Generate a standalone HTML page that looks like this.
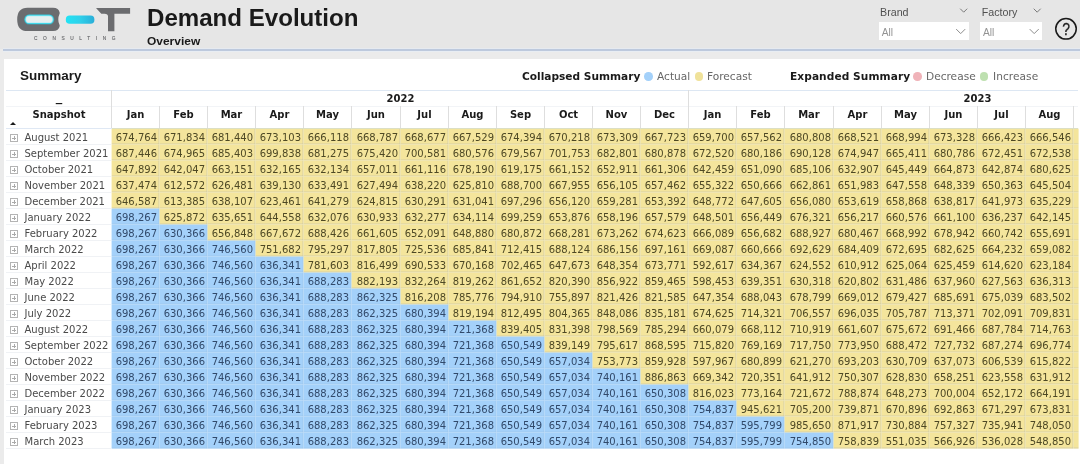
<!DOCTYPE html>
<html lang="en"><head><meta charset="utf-8"><title>Demand Evolution</title>
<style>
*{box-sizing:border-box;margin:0;padding:0}
html,body{width:1080px;height:464px;overflow:hidden}
body{background:#ebebeb;position:relative;font-family:"DejaVu Sans","Liberation Sans",sans-serif;color:#333}
.logo{position:absolute;left:0;top:0}
.title{position:absolute;left:147.4px;top:3.6px;font:bold 23.4px/28px "Liberation Sans",sans-serif;transform:scaleX(1.03);transform-origin:0 0;color:#1a1a1a;white-space:nowrap}
.sub{position:absolute;left:147px;top:34px;font:bold 10.7px/14px "Liberation Sans",sans-serif;transform:scaleX(1.12);transform-origin:0 0;color:#1a1a1a;white-space:nowrap}
.sl-l{position:absolute;top:6.2px;font:10.7px/13px "Liberation Sans",sans-serif;color:#505050;white-space:nowrap}
.sl-b{position:absolute;top:22px;height:18px;background:#fff;font:10.2px/21px "Liberation Sans",sans-serif;color:#939393;padding-left:2.8px}
.chev{position:absolute}
.help{position:absolute;left:1050px;top:14px;width:30px;height:30px}
.hdr{position:absolute;left:0;top:0;width:1080px;height:49px;background:#e6e6e6}
.rule{position:absolute;left:3px;top:48px;width:1077px;height:4px;background:linear-gradient(#e6eaf0 0,#e6eaf0 1px,#bdc9dd 1px,#bdc9dd 3px,#e8edf3 3px,#e8edf3 4px)}
.panel{position:absolute;left:0;top:0;width:1080px;height:464px}
.panel>*{position:absolute}
.white{left:4px;top:58.7px;width:1076px;height:405.3px;background:#fff}
.sum{left:20px;top:67.5px;font:bold 13.5px/16px "Liberation Sans",sans-serif;color:#1a1a1a;white-space:nowrap}
.lg{top:69.5px;font:10.6px/13px "DejaVu Sans",sans-serif;color:#666;white-space:nowrap}
.lg b{color:#1a1a1a}
.dot{width:8.6px;height:8.6px;border-radius:50%;top:72px}
.yr{top:92.3px;height:14px;font:bold 10px/14px "DejaVu Sans",sans-serif;text-align:center;color:#1a1a1a;white-space:nowrap;overflow:hidden}
.mo{top:107.5px;height:14px;font:bold 10px/14px "DejaVu Sans",sans-serif;text-align:center;color:#1a1a1a}
.hl{height:1px;background:#dde7f3}
.h2{background:#f2f4f7}
.h3{background:#dfe8f4;z-index:3}
.h4{background:#dcdfc4;z-index:4}
.vl{width:1px;background:#dedede}
.snap{left:6.5px;width:105px;top:107.5px;font:bold 10px/14px "DejaVu Sans",sans-serif;text-align:center;color:#1a1a1a}
.us{left:6.5px;width:105px;top:89.5px;font:bold 13px/14px "DejaVu Sans",sans-serif;text-align:center;color:#1a1a1a}
.tri{left:9.8px;top:121.8px;width:0;height:0;border-left:3.3px solid transparent;border-right:3.3px solid transparent;border-bottom:3.8px solid #1a1a1a}
.row{left:0;width:1080px;height:16px;font:10px/16px "DejaVu Sans",sans-serif}
.row>*,.rr>*{position:absolute;top:0}
.rhdr{left:0;top:0;width:112px;height:464px}
.rr{position:absolute;left:0;width:112px;height:16px;font:10px/16px "DejaVu Sans",sans-serif}
.rr::before{content:"";position:absolute;left:6px;top:15px;width:105px;height:1px;background:#f0f2f5}
.ex{left:10px;top:5px;width:8px;height:8px;border:1px solid #b4b4b4;background:#fff}
.ex::before{content:"";position:absolute;left:1px;top:2.5px;width:4px;height:1px;background:#aaa}
.ex::after{content:"";position:absolute;left:2.5px;top:1px;width:1px;height:4px;background:#aaa}
.rh{left:24.5px;color:#4a4a4a;white-space:nowrap;line-height:17.4px}
.c{height:16px;text-align:right;padding-right:2.6px;color:#4d4824;line-height:17.4px;overflow:hidden}
.c::after{content:"";position:absolute;right:0;top:0;bottom:0;width:1px;background:rgba(172,178,184,.52)}
.c::before{content:"";position:absolute;left:0;right:0;bottom:0;height:1px;background:rgba(172,178,184,.52)}
.y{background:#f4e59c}
.b{background:#a4d1fa;color:#31496a}
.b::after,.b::before{background:rgba(150,175,200,.26)}
.rows{left:0;top:0;width:1080px;height:464px;transform:translate(-.4px,-.4px)}
.rows>.row{position:absolute}
.c.e::after{display:none}
</style></head>
<body>
<div class="hdr"></div>
<svg class="logo" width="140" height="46" viewBox="0 0 140 46">
  <defs>
    <linearGradient id="cy" x1="0" x2="1" y1="0" y2="0"><stop offset="0" stop-color="#22e3f4"/><stop offset="0.5" stop-color="#2fd0ea"/><stop offset="1" stop-color="#2aaed8"/></linearGradient>
  </defs>
  <path d="M27.5 7.7 H53 Q58.8 7.7 59.7 12.8 Q59.8 13.6 59.3 14.5 Q58.3 16.6 58.3 19.4 Q58.3 22.2 59.3 24.3 Q59.8 25.2 59.7 26 Q58.8 31.1 53 31.1 H27.5 Q17.2 31.1 17.2 19.4 Q17.2 7.7 27.5 7.7 Z" fill="#6b6c6f"/>
  <rect x="24" y="14.2" width="30.4" height="10.5" rx="5.25" fill="#4f8f9c"/>
  <rect x="24.6" y="14.8" width="29.2" height="9.3" rx="4.65" fill="#3fd8ea"/>
  <rect x="25.6" y="15.8" width="27.2" height="7.3" rx="3.65" fill="#bfeef4"/>
  <rect x="26.4" y="16.6" width="25.6" height="5.7" rx="2.85" fill="#e6eff0"/>
  <rect x="65.8" y="15.6" width="28.6" height="8.2" rx="3.8" fill="url(#cy)"/>
  <path d="M96 8 H130.1 V13.8 H114.4 V31.3 H108 V16.6 Q108 13.8 104.5 13.8 H101.3 Z" fill="#6b6c6f"/>
  <text x="34" y="39.9" font-family="Liberation Sans, sans-serif" font-size="4.8" letter-spacing="5.6" fill="#66676a" stroke="#66676a" stroke-width="0.12">CONSULTING</text>
</svg>
<div class="title">Demand Evolution</div>
<div class="sub">Overview</div>
<div class="sl-l" style="left:880px">Brand</div>
<svg class="chev" style="left:959px;top:7px" width="10" height="8" viewBox="0 0 10 8"><path d="M1.2 1.7 L4.7 5.2 L8.2 1.7" fill="none" stroke="#7a7a7a" stroke-width="1"/></svg>
<div class="sl-b" style="left:879px;width:90px">All</div>
<svg class="chev" style="left:955px;top:28px" width="12" height="8" viewBox="0 0 12 8"><path d="M1.2 1.1 L5.7 5.6 L10.2 1.1" fill="none" stroke="#8c8c8c" stroke-width="1"/></svg>
<div class="sl-l" style="left:981.7px">Factory</div>
<svg class="chev" style="left:1033px;top:7px" width="10" height="8" viewBox="0 0 10 8"><path d="M0.7 1.7 L4.2 5.2 L7.7 1.7" fill="none" stroke="#7a7a7a" stroke-width="1"/></svg>
<div class="sl-b" style="left:980.2px;width:62.1px">All</div>
<svg class="chev" style="left:1029px;top:28px" width="12" height="8" viewBox="0 0 12 8"><path d="M0.7 1.1 L5.2 5.6 L9.7 1.1" fill="none" stroke="#8c8c8c" stroke-width="1"/></svg>
<svg class="help" viewBox="0 0 30 30"><circle cx="16" cy="14.85" r="10.25" fill="none" stroke="#1a1a1a" stroke-width="1.5"/><text transform="translate(16.2 21.4) scale(0.8 1)" text-anchor="middle" font-family="Liberation Sans, sans-serif" font-size="17.4" fill="#1a1a1a" stroke="#1a1a1a" stroke-width="0.3">?</text></svg>
<div class="rule"></div>
<div class="panel">
<div class="white"></div>
<div class="sum">Summary</div>
<div class="lg" style="left:522px"><b>Collapsed Summary</b></div>
<div class="dot" style="left:644.3px;background:#a4d1fa"></div>
<div class="lg" style="left:657px">Actual</div>
<div class="dot" style="left:694.8px;background:#f0e29a"></div>
<div class="lg" style="left:707px">Forecast</div>
<div class="lg" style="left:790px;letter-spacing:.08px"><b>Expanded Summary</b></div>
<div class="dot" style="left:913.2px;background:#f0b3b9"></div>
<div class="lg" style="left:926px">Decrease</div>
<div class="dot" style="left:979.6px;background:#bee0b0"></div>
<div class="lg" style="left:993px;letter-spacing:.05px">Increase</div>
<div class="us">_</div>
<div class="snap">Snapshot</div>
<div class="tri"></div>
<div class="yr" style="left:112px;width:577px">2022</div>
<div class="yr" style="left:689px;width:577px">2023</div>
<div class="mo" style="left:112px;width:47px">Jan</div><div class="mo" style="left:160px;width:47px">Feb</div><div class="mo" style="left:208px;width:47px">Mar</div><div class="mo" style="left:256px;width:47px">Apr</div><div class="mo" style="left:304px;width:47px">May</div><div class="mo" style="left:352px;width:48px">Jun</div><div class="mo" style="left:401px;width:47px">Jul</div><div class="mo" style="left:449px;width:47px">Aug</div><div class="mo" style="left:497px;width:47px">Sep</div><div class="mo" style="left:545px;width:47px">Oct</div><div class="mo" style="left:593px;width:47px">Nov</div><div class="mo" style="left:641px;width:47px">Dec</div><div class="mo" style="left:689px;width:47px">Jan</div><div class="mo" style="left:737px;width:47px">Feb</div><div class="mo" style="left:785px;width:48px">Mar</div><div class="mo" style="left:834px;width:47px">Apr</div><div class="mo" style="left:882px;width:47px">May</div><div class="mo" style="left:930px;width:47px">Jun</div><div class="mo" style="left:978px;width:47px">Jul</div><div class="mo" style="left:1026px;width:47px">Aug</div>
<div class="hl h1" style="top:90px;left:6px;width:1072px"></div>
<div class="hl h2" style="top:106px;left:6px;width:1072px"></div>
<div class="hl h3" style="top:128px;left:6px;width:106px"></div>
<div class="hl h4" style="top:128px;left:112px;width:966px"></div>
<div class="vl" style="left:111px;top:90px;height:39px"></div><div class="vl" style="left:159px;top:106px;height:23px"></div><div class="vl" style="left:207px;top:106px;height:23px"></div><div class="vl" style="left:255px;top:106px;height:23px"></div><div class="vl" style="left:303px;top:106px;height:23px"></div><div class="vl" style="left:351px;top:106px;height:23px"></div><div class="vl" style="left:400px;top:106px;height:23px"></div><div class="vl" style="left:448px;top:106px;height:23px"></div><div class="vl" style="left:496px;top:106px;height:23px"></div><div class="vl" style="left:544px;top:106px;height:23px"></div><div class="vl" style="left:592px;top:106px;height:23px"></div><div class="vl" style="left:640px;top:106px;height:23px"></div><div class="vl" style="left:688px;top:90px;height:39px"></div><div class="vl" style="left:736px;top:106px;height:23px"></div><div class="vl" style="left:784px;top:106px;height:23px"></div><div class="vl" style="left:833px;top:106px;height:23px"></div><div class="vl" style="left:881px;top:106px;height:23px"></div><div class="vl" style="left:929px;top:106px;height:23px"></div><div class="vl" style="left:977px;top:106px;height:23px"></div><div class="vl" style="left:1025px;top:106px;height:23px"></div><div class="vl" style="left:1073px;top:106px;height:23px"></div>
<div class="rhdr">
<div class="rr" style="top:129px"><i class="ex"></i><span class="rh">August 2021</span></div>
<div class="rr" style="top:145px"><i class="ex"></i><span class="rh">September 2021</span></div>
<div class="rr" style="top:161px"><i class="ex"></i><span class="rh">October 2021</span></div>
<div class="rr" style="top:177px"><i class="ex"></i><span class="rh">November 2021</span></div>
<div class="rr" style="top:193px"><i class="ex"></i><span class="rh">December 2021</span></div>
<div class="rr" style="top:209px"><i class="ex"></i><span class="rh">January 2022</span></div>
<div class="rr" style="top:225px"><i class="ex"></i><span class="rh">February 2022</span></div>
<div class="rr" style="top:241px"><i class="ex"></i><span class="rh">March 2022</span></div>
<div class="rr" style="top:257px"><i class="ex"></i><span class="rh">April 2022</span></div>
<div class="rr" style="top:273px"><i class="ex"></i><span class="rh">May 2022</span></div>
<div class="rr" style="top:289px"><i class="ex"></i><span class="rh">June 2022</span></div>
<div class="rr" style="top:305px"><i class="ex"></i><span class="rh">July 2022</span></div>
<div class="rr" style="top:321px"><i class="ex"></i><span class="rh">August 2022</span></div>
<div class="rr" style="top:337px"><i class="ex"></i><span class="rh">September 2022</span></div>
<div class="rr" style="top:353px"><i class="ex"></i><span class="rh">October 2022</span></div>
<div class="rr" style="top:369px"><i class="ex"></i><span class="rh">November 2022</span></div>
<div class="rr" style="top:385px"><i class="ex"></i><span class="rh">December 2022</span></div>
<div class="rr" style="top:401px"><i class="ex"></i><span class="rh">January 2023</span></div>
<div class="rr" style="top:417px"><i class="ex"></i><span class="rh">February 2023</span></div>
<div class="rr" style="top:433px"><i class="ex"></i><span class="rh">March 2023</span></div>
</div>
<div class="rows">
<div class="row" style="top:129px"><span class="c y" style="left:112px;width:48px">674,764</span><span class="c y" style="left:160px;width:48px">671,834</span><span class="c y" style="left:208px;width:48px">681,440</span><span class="c y" style="left:256px;width:48px">673,103</span><span class="c y" style="left:304px;width:48px">666,118</span><span class="c y" style="left:352px;width:49px">668,787</span><span class="c y" style="left:401px;width:48px">668,677</span><span class="c y" style="left:449px;width:48px">667,529</span><span class="c y" style="left:497px;width:48px">674,394</span><span class="c y" style="left:545px;width:48px">670,218</span><span class="c y" style="left:593px;width:48px">673,309</span><span class="c y" style="left:641px;width:48px">667,723</span><span class="c y" style="left:689px;width:48px">659,700</span><span class="c y" style="left:737px;width:48px">657,562</span><span class="c y" style="left:785px;width:49px">680,808</span><span class="c y" style="left:834px;width:48px">668,521</span><span class="c y" style="left:882px;width:48px">668,994</span><span class="c y" style="left:930px;width:48px">673,328</span><span class="c y" style="left:978px;width:48px">666,423</span><span class="c y" style="left:1026px;width:48px">666,546</span><span class="c y e" style="left:1074px;width:4.7px"></span></div>
<div class="row" style="top:145px"><span class="c y" style="left:112px;width:48px">687,446</span><span class="c y" style="left:160px;width:48px">674,965</span><span class="c y" style="left:208px;width:48px">685,403</span><span class="c y" style="left:256px;width:48px">699,838</span><span class="c y" style="left:304px;width:48px">681,275</span><span class="c y" style="left:352px;width:49px">675,420</span><span class="c y" style="left:401px;width:48px">700,581</span><span class="c y" style="left:449px;width:48px">680,576</span><span class="c y" style="left:497px;width:48px">679,567</span><span class="c y" style="left:545px;width:48px">701,753</span><span class="c y" style="left:593px;width:48px">682,801</span><span class="c y" style="left:641px;width:48px">680,878</span><span class="c y" style="left:689px;width:48px">672,520</span><span class="c y" style="left:737px;width:48px">680,186</span><span class="c y" style="left:785px;width:49px">690,128</span><span class="c y" style="left:834px;width:48px">674,947</span><span class="c y" style="left:882px;width:48px">665,411</span><span class="c y" style="left:930px;width:48px">680,786</span><span class="c y" style="left:978px;width:48px">672,451</span><span class="c y" style="left:1026px;width:48px">672,538</span><span class="c y e" style="left:1074px;width:4.7px"></span></div>
<div class="row" style="top:161px"><span class="c y" style="left:112px;width:48px">647,892</span><span class="c y" style="left:160px;width:48px">642,047</span><span class="c y" style="left:208px;width:48px">663,151</span><span class="c y" style="left:256px;width:48px">632,165</span><span class="c y" style="left:304px;width:48px">632,134</span><span class="c y" style="left:352px;width:49px">657,011</span><span class="c y" style="left:401px;width:48px">661,116</span><span class="c y" style="left:449px;width:48px">678,190</span><span class="c y" style="left:497px;width:48px">619,175</span><span class="c y" style="left:545px;width:48px">661,152</span><span class="c y" style="left:593px;width:48px">652,911</span><span class="c y" style="left:641px;width:48px">661,306</span><span class="c y" style="left:689px;width:48px">642,459</span><span class="c y" style="left:737px;width:48px">651,090</span><span class="c y" style="left:785px;width:49px">685,106</span><span class="c y" style="left:834px;width:48px">632,907</span><span class="c y" style="left:882px;width:48px">645,449</span><span class="c y" style="left:930px;width:48px">664,873</span><span class="c y" style="left:978px;width:48px">642,874</span><span class="c y" style="left:1026px;width:48px">680,625</span><span class="c y e" style="left:1074px;width:4.7px"></span></div>
<div class="row" style="top:177px"><span class="c y" style="left:112px;width:48px">637,474</span><span class="c y" style="left:160px;width:48px">612,572</span><span class="c y" style="left:208px;width:48px">626,481</span><span class="c y" style="left:256px;width:48px">639,130</span><span class="c y" style="left:304px;width:48px">633,491</span><span class="c y" style="left:352px;width:49px">627,494</span><span class="c y" style="left:401px;width:48px">638,220</span><span class="c y" style="left:449px;width:48px">625,810</span><span class="c y" style="left:497px;width:48px">688,700</span><span class="c y" style="left:545px;width:48px">667,955</span><span class="c y" style="left:593px;width:48px">656,105</span><span class="c y" style="left:641px;width:48px">657,462</span><span class="c y" style="left:689px;width:48px">655,322</span><span class="c y" style="left:737px;width:48px">650,666</span><span class="c y" style="left:785px;width:49px">662,861</span><span class="c y" style="left:834px;width:48px">651,983</span><span class="c y" style="left:882px;width:48px">647,558</span><span class="c y" style="left:930px;width:48px">648,339</span><span class="c y" style="left:978px;width:48px">650,363</span><span class="c y" style="left:1026px;width:48px">645,504</span><span class="c y e" style="left:1074px;width:4.7px"></span></div>
<div class="row" style="top:193px"><span class="c y" style="left:112px;width:48px">646,587</span><span class="c y" style="left:160px;width:48px">613,385</span><span class="c y" style="left:208px;width:48px">638,107</span><span class="c y" style="left:256px;width:48px">623,461</span><span class="c y" style="left:304px;width:48px">641,279</span><span class="c y" style="left:352px;width:49px">624,815</span><span class="c y" style="left:401px;width:48px">630,291</span><span class="c y" style="left:449px;width:48px">631,041</span><span class="c y" style="left:497px;width:48px">697,296</span><span class="c y" style="left:545px;width:48px">656,120</span><span class="c y" style="left:593px;width:48px">659,281</span><span class="c y" style="left:641px;width:48px">653,392</span><span class="c y" style="left:689px;width:48px">648,772</span><span class="c y" style="left:737px;width:48px">647,605</span><span class="c y" style="left:785px;width:49px">656,080</span><span class="c y" style="left:834px;width:48px">653,619</span><span class="c y" style="left:882px;width:48px">658,868</span><span class="c y" style="left:930px;width:48px">638,817</span><span class="c y" style="left:978px;width:48px">641,973</span><span class="c y" style="left:1026px;width:48px">635,229</span><span class="c y e" style="left:1074px;width:4.7px"></span></div>
<div class="row" style="top:209px"><span class="c b" style="left:112px;width:48px">698,267</span><span class="c y" style="left:160px;width:48px">625,872</span><span class="c y" style="left:208px;width:48px">635,651</span><span class="c y" style="left:256px;width:48px">644,558</span><span class="c y" style="left:304px;width:48px">632,076</span><span class="c y" style="left:352px;width:49px">630,933</span><span class="c y" style="left:401px;width:48px">632,277</span><span class="c y" style="left:449px;width:48px">634,114</span><span class="c y" style="left:497px;width:48px">699,259</span><span class="c y" style="left:545px;width:48px">653,876</span><span class="c y" style="left:593px;width:48px">658,196</span><span class="c y" style="left:641px;width:48px">657,579</span><span class="c y" style="left:689px;width:48px">648,501</span><span class="c y" style="left:737px;width:48px">656,449</span><span class="c y" style="left:785px;width:49px">676,321</span><span class="c y" style="left:834px;width:48px">656,217</span><span class="c y" style="left:882px;width:48px">660,576</span><span class="c y" style="left:930px;width:48px">661,100</span><span class="c y" style="left:978px;width:48px">636,237</span><span class="c y" style="left:1026px;width:48px">642,145</span><span class="c y e" style="left:1074px;width:4.7px"></span></div>
<div class="row" style="top:225px"><span class="c b" style="left:112px;width:48px">698,267</span><span class="c b" style="left:160px;width:48px">630,366</span><span class="c y" style="left:208px;width:48px">656,848</span><span class="c y" style="left:256px;width:48px">667,672</span><span class="c y" style="left:304px;width:48px">688,426</span><span class="c y" style="left:352px;width:49px">661,605</span><span class="c y" style="left:401px;width:48px">652,091</span><span class="c y" style="left:449px;width:48px">648,880</span><span class="c y" style="left:497px;width:48px">680,872</span><span class="c y" style="left:545px;width:48px">668,281</span><span class="c y" style="left:593px;width:48px">673,262</span><span class="c y" style="left:641px;width:48px">674,623</span><span class="c y" style="left:689px;width:48px">666,089</span><span class="c y" style="left:737px;width:48px">656,682</span><span class="c y" style="left:785px;width:49px">688,927</span><span class="c y" style="left:834px;width:48px">680,467</span><span class="c y" style="left:882px;width:48px">668,992</span><span class="c y" style="left:930px;width:48px">678,942</span><span class="c y" style="left:978px;width:48px">660,742</span><span class="c y" style="left:1026px;width:48px">655,691</span><span class="c y e" style="left:1074px;width:4.7px"></span></div>
<div class="row" style="top:241px"><span class="c b" style="left:112px;width:48px">698,267</span><span class="c b" style="left:160px;width:48px">630,366</span><span class="c b" style="left:208px;width:48px">746,560</span><span class="c y" style="left:256px;width:48px">751,682</span><span class="c y" style="left:304px;width:48px">795,297</span><span class="c y" style="left:352px;width:49px">817,805</span><span class="c y" style="left:401px;width:48px">725,536</span><span class="c y" style="left:449px;width:48px">685,841</span><span class="c y" style="left:497px;width:48px">712,415</span><span class="c y" style="left:545px;width:48px">688,124</span><span class="c y" style="left:593px;width:48px">686,156</span><span class="c y" style="left:641px;width:48px">697,161</span><span class="c y" style="left:689px;width:48px">669,087</span><span class="c y" style="left:737px;width:48px">660,666</span><span class="c y" style="left:785px;width:49px">692,629</span><span class="c y" style="left:834px;width:48px">684,409</span><span class="c y" style="left:882px;width:48px">672,695</span><span class="c y" style="left:930px;width:48px">682,625</span><span class="c y" style="left:978px;width:48px">664,232</span><span class="c y" style="left:1026px;width:48px">659,082</span><span class="c y e" style="left:1074px;width:4.7px"></span></div>
<div class="row" style="top:257px"><span class="c b" style="left:112px;width:48px">698,267</span><span class="c b" style="left:160px;width:48px">630,366</span><span class="c b" style="left:208px;width:48px">746,560</span><span class="c b" style="left:256px;width:48px">636,341</span><span class="c y" style="left:304px;width:48px">781,603</span><span class="c y" style="left:352px;width:49px">816,499</span><span class="c y" style="left:401px;width:48px">690,533</span><span class="c y" style="left:449px;width:48px">670,168</span><span class="c y" style="left:497px;width:48px">702,465</span><span class="c y" style="left:545px;width:48px">647,673</span><span class="c y" style="left:593px;width:48px">648,354</span><span class="c y" style="left:641px;width:48px">673,771</span><span class="c y" style="left:689px;width:48px">592,617</span><span class="c y" style="left:737px;width:48px">634,367</span><span class="c y" style="left:785px;width:49px">624,552</span><span class="c y" style="left:834px;width:48px">610,912</span><span class="c y" style="left:882px;width:48px">625,064</span><span class="c y" style="left:930px;width:48px">625,459</span><span class="c y" style="left:978px;width:48px">614,620</span><span class="c y" style="left:1026px;width:48px">623,184</span><span class="c y e" style="left:1074px;width:4.7px"></span></div>
<div class="row" style="top:273px"><span class="c b" style="left:112px;width:48px">698,267</span><span class="c b" style="left:160px;width:48px">630,366</span><span class="c b" style="left:208px;width:48px">746,560</span><span class="c b" style="left:256px;width:48px">636,341</span><span class="c b" style="left:304px;width:48px">688,283</span><span class="c y" style="left:352px;width:49px">882,193</span><span class="c y" style="left:401px;width:48px">832,264</span><span class="c y" style="left:449px;width:48px">819,262</span><span class="c y" style="left:497px;width:48px">861,652</span><span class="c y" style="left:545px;width:48px">820,390</span><span class="c y" style="left:593px;width:48px">856,922</span><span class="c y" style="left:641px;width:48px">859,465</span><span class="c y" style="left:689px;width:48px">598,453</span><span class="c y" style="left:737px;width:48px">639,351</span><span class="c y" style="left:785px;width:49px">630,318</span><span class="c y" style="left:834px;width:48px">620,802</span><span class="c y" style="left:882px;width:48px">631,486</span><span class="c y" style="left:930px;width:48px">637,960</span><span class="c y" style="left:978px;width:48px">627,563</span><span class="c y" style="left:1026px;width:48px">636,313</span><span class="c y e" style="left:1074px;width:4.7px"></span></div>
<div class="row" style="top:289px"><span class="c b" style="left:112px;width:48px">698,267</span><span class="c b" style="left:160px;width:48px">630,366</span><span class="c b" style="left:208px;width:48px">746,560</span><span class="c b" style="left:256px;width:48px">636,341</span><span class="c b" style="left:304px;width:48px">688,283</span><span class="c b" style="left:352px;width:49px">862,325</span><span class="c y" style="left:401px;width:48px">816,208</span><span class="c y" style="left:449px;width:48px">785,776</span><span class="c y" style="left:497px;width:48px">794,910</span><span class="c y" style="left:545px;width:48px">755,897</span><span class="c y" style="left:593px;width:48px">821,426</span><span class="c y" style="left:641px;width:48px">821,585</span><span class="c y" style="left:689px;width:48px">647,354</span><span class="c y" style="left:737px;width:48px">688,043</span><span class="c y" style="left:785px;width:49px">678,799</span><span class="c y" style="left:834px;width:48px">669,012</span><span class="c y" style="left:882px;width:48px">679,427</span><span class="c y" style="left:930px;width:48px">685,691</span><span class="c y" style="left:978px;width:48px">675,039</span><span class="c y" style="left:1026px;width:48px">683,502</span><span class="c y e" style="left:1074px;width:4.7px"></span></div>
<div class="row" style="top:305px"><span class="c b" style="left:112px;width:48px">698,267</span><span class="c b" style="left:160px;width:48px">630,366</span><span class="c b" style="left:208px;width:48px">746,560</span><span class="c b" style="left:256px;width:48px">636,341</span><span class="c b" style="left:304px;width:48px">688,283</span><span class="c b" style="left:352px;width:49px">862,325</span><span class="c b" style="left:401px;width:48px">680,394</span><span class="c y" style="left:449px;width:48px">819,194</span><span class="c y" style="left:497px;width:48px">812,495</span><span class="c y" style="left:545px;width:48px">804,365</span><span class="c y" style="left:593px;width:48px">848,086</span><span class="c y" style="left:641px;width:48px">835,181</span><span class="c y" style="left:689px;width:48px">674,625</span><span class="c y" style="left:737px;width:48px">714,321</span><span class="c y" style="left:785px;width:49px">706,557</span><span class="c y" style="left:834px;width:48px">696,035</span><span class="c y" style="left:882px;width:48px">705,787</span><span class="c y" style="left:930px;width:48px">713,371</span><span class="c y" style="left:978px;width:48px">702,091</span><span class="c y" style="left:1026px;width:48px">709,831</span><span class="c y e" style="left:1074px;width:4.7px"></span></div>
<div class="row" style="top:321px"><span class="c b" style="left:112px;width:48px">698,267</span><span class="c b" style="left:160px;width:48px">630,366</span><span class="c b" style="left:208px;width:48px">746,560</span><span class="c b" style="left:256px;width:48px">636,341</span><span class="c b" style="left:304px;width:48px">688,283</span><span class="c b" style="left:352px;width:49px">862,325</span><span class="c b" style="left:401px;width:48px">680,394</span><span class="c b" style="left:449px;width:48px">721,368</span><span class="c y" style="left:497px;width:48px">839,405</span><span class="c y" style="left:545px;width:48px">831,398</span><span class="c y" style="left:593px;width:48px">798,569</span><span class="c y" style="left:641px;width:48px">785,294</span><span class="c y" style="left:689px;width:48px">660,079</span><span class="c y" style="left:737px;width:48px">668,112</span><span class="c y" style="left:785px;width:49px">710,919</span><span class="c y" style="left:834px;width:48px">661,607</span><span class="c y" style="left:882px;width:48px">675,672</span><span class="c y" style="left:930px;width:48px">691,466</span><span class="c y" style="left:978px;width:48px">687,784</span><span class="c y" style="left:1026px;width:48px">714,763</span><span class="c y e" style="left:1074px;width:4.7px"></span></div>
<div class="row" style="top:337px"><span class="c b" style="left:112px;width:48px">698,267</span><span class="c b" style="left:160px;width:48px">630,366</span><span class="c b" style="left:208px;width:48px">746,560</span><span class="c b" style="left:256px;width:48px">636,341</span><span class="c b" style="left:304px;width:48px">688,283</span><span class="c b" style="left:352px;width:49px">862,325</span><span class="c b" style="left:401px;width:48px">680,394</span><span class="c b" style="left:449px;width:48px">721,368</span><span class="c b" style="left:497px;width:48px">650,549</span><span class="c y" style="left:545px;width:48px">839,149</span><span class="c y" style="left:593px;width:48px">795,617</span><span class="c y" style="left:641px;width:48px">868,595</span><span class="c y" style="left:689px;width:48px">715,820</span><span class="c y" style="left:737px;width:48px">769,169</span><span class="c y" style="left:785px;width:49px">717,750</span><span class="c y" style="left:834px;width:48px">773,950</span><span class="c y" style="left:882px;width:48px">688,472</span><span class="c y" style="left:930px;width:48px">727,732</span><span class="c y" style="left:978px;width:48px">687,274</span><span class="c y" style="left:1026px;width:48px">696,774</span><span class="c y e" style="left:1074px;width:4.7px"></span></div>
<div class="row" style="top:353px"><span class="c b" style="left:112px;width:48px">698,267</span><span class="c b" style="left:160px;width:48px">630,366</span><span class="c b" style="left:208px;width:48px">746,560</span><span class="c b" style="left:256px;width:48px">636,341</span><span class="c b" style="left:304px;width:48px">688,283</span><span class="c b" style="left:352px;width:49px">862,325</span><span class="c b" style="left:401px;width:48px">680,394</span><span class="c b" style="left:449px;width:48px">721,368</span><span class="c b" style="left:497px;width:48px">650,549</span><span class="c b" style="left:545px;width:48px">657,034</span><span class="c y" style="left:593px;width:48px">753,773</span><span class="c y" style="left:641px;width:48px">859,928</span><span class="c y" style="left:689px;width:48px">597,967</span><span class="c y" style="left:737px;width:48px">680,899</span><span class="c y" style="left:785px;width:49px">621,270</span><span class="c y" style="left:834px;width:48px">693,203</span><span class="c y" style="left:882px;width:48px">630,709</span><span class="c y" style="left:930px;width:48px">637,073</span><span class="c y" style="left:978px;width:48px">606,539</span><span class="c y" style="left:1026px;width:48px">615,822</span><span class="c y e" style="left:1074px;width:4.7px"></span></div>
<div class="row" style="top:369px"><span class="c b" style="left:112px;width:48px">698,267</span><span class="c b" style="left:160px;width:48px">630,366</span><span class="c b" style="left:208px;width:48px">746,560</span><span class="c b" style="left:256px;width:48px">636,341</span><span class="c b" style="left:304px;width:48px">688,283</span><span class="c b" style="left:352px;width:49px">862,325</span><span class="c b" style="left:401px;width:48px">680,394</span><span class="c b" style="left:449px;width:48px">721,368</span><span class="c b" style="left:497px;width:48px">650,549</span><span class="c b" style="left:545px;width:48px">657,034</span><span class="c b" style="left:593px;width:48px">740,161</span><span class="c y" style="left:641px;width:48px">886,863</span><span class="c y" style="left:689px;width:48px">669,342</span><span class="c y" style="left:737px;width:48px">720,351</span><span class="c y" style="left:785px;width:49px">641,912</span><span class="c y" style="left:834px;width:48px">750,307</span><span class="c y" style="left:882px;width:48px">628,830</span><span class="c y" style="left:930px;width:48px">658,251</span><span class="c y" style="left:978px;width:48px">623,558</span><span class="c y" style="left:1026px;width:48px">631,912</span><span class="c y e" style="left:1074px;width:4.7px"></span></div>
<div class="row" style="top:385px"><span class="c b" style="left:112px;width:48px">698,267</span><span class="c b" style="left:160px;width:48px">630,366</span><span class="c b" style="left:208px;width:48px">746,560</span><span class="c b" style="left:256px;width:48px">636,341</span><span class="c b" style="left:304px;width:48px">688,283</span><span class="c b" style="left:352px;width:49px">862,325</span><span class="c b" style="left:401px;width:48px">680,394</span><span class="c b" style="left:449px;width:48px">721,368</span><span class="c b" style="left:497px;width:48px">650,549</span><span class="c b" style="left:545px;width:48px">657,034</span><span class="c b" style="left:593px;width:48px">740,161</span><span class="c b" style="left:641px;width:48px">650,308</span><span class="c y" style="left:689px;width:48px">816,023</span><span class="c y" style="left:737px;width:48px">773,164</span><span class="c y" style="left:785px;width:49px">721,672</span><span class="c y" style="left:834px;width:48px">788,874</span><span class="c y" style="left:882px;width:48px">648,273</span><span class="c y" style="left:930px;width:48px">700,004</span><span class="c y" style="left:978px;width:48px">652,172</span><span class="c y" style="left:1026px;width:48px">664,191</span><span class="c y e" style="left:1074px;width:4.7px"></span></div>
<div class="row" style="top:401px"><span class="c b" style="left:112px;width:48px">698,267</span><span class="c b" style="left:160px;width:48px">630,366</span><span class="c b" style="left:208px;width:48px">746,560</span><span class="c b" style="left:256px;width:48px">636,341</span><span class="c b" style="left:304px;width:48px">688,283</span><span class="c b" style="left:352px;width:49px">862,325</span><span class="c b" style="left:401px;width:48px">680,394</span><span class="c b" style="left:449px;width:48px">721,368</span><span class="c b" style="left:497px;width:48px">650,549</span><span class="c b" style="left:545px;width:48px">657,034</span><span class="c b" style="left:593px;width:48px">740,161</span><span class="c b" style="left:641px;width:48px">650,308</span><span class="c b" style="left:689px;width:48px">754,837</span><span class="c y" style="left:737px;width:48px">945,621</span><span class="c y" style="left:785px;width:49px">705,200</span><span class="c y" style="left:834px;width:48px">739,871</span><span class="c y" style="left:882px;width:48px">670,896</span><span class="c y" style="left:930px;width:48px">692,863</span><span class="c y" style="left:978px;width:48px">671,297</span><span class="c y" style="left:1026px;width:48px">673,831</span><span class="c y e" style="left:1074px;width:4.7px"></span></div>
<div class="row" style="top:417px"><span class="c b" style="left:112px;width:48px">698,267</span><span class="c b" style="left:160px;width:48px">630,366</span><span class="c b" style="left:208px;width:48px">746,560</span><span class="c b" style="left:256px;width:48px">636,341</span><span class="c b" style="left:304px;width:48px">688,283</span><span class="c b" style="left:352px;width:49px">862,325</span><span class="c b" style="left:401px;width:48px">680,394</span><span class="c b" style="left:449px;width:48px">721,368</span><span class="c b" style="left:497px;width:48px">650,549</span><span class="c b" style="left:545px;width:48px">657,034</span><span class="c b" style="left:593px;width:48px">740,161</span><span class="c b" style="left:641px;width:48px">650,308</span><span class="c b" style="left:689px;width:48px">754,837</span><span class="c b" style="left:737px;width:48px">595,799</span><span class="c y" style="left:785px;width:49px">985,650</span><span class="c y" style="left:834px;width:48px">871,917</span><span class="c y" style="left:882px;width:48px">730,884</span><span class="c y" style="left:930px;width:48px">757,327</span><span class="c y" style="left:978px;width:48px">735,941</span><span class="c y" style="left:1026px;width:48px">748,050</span><span class="c y e" style="left:1074px;width:4.7px"></span></div>
<div class="row" style="top:433px"><span class="c b" style="left:112px;width:48px">698,267</span><span class="c b" style="left:160px;width:48px">630,366</span><span class="c b" style="left:208px;width:48px">746,560</span><span class="c b" style="left:256px;width:48px">636,341</span><span class="c b" style="left:304px;width:48px">688,283</span><span class="c b" style="left:352px;width:49px">862,325</span><span class="c b" style="left:401px;width:48px">680,394</span><span class="c b" style="left:449px;width:48px">721,368</span><span class="c b" style="left:497px;width:48px">650,549</span><span class="c b" style="left:545px;width:48px">657,034</span><span class="c b" style="left:593px;width:48px">740,161</span><span class="c b" style="left:641px;width:48px">650,308</span><span class="c b" style="left:689px;width:48px">754,837</span><span class="c b" style="left:737px;width:48px">595,799</span><span class="c b" style="left:785px;width:49px">754,850</span><span class="c y" style="left:834px;width:48px">758,839</span><span class="c y" style="left:882px;width:48px">551,035</span><span class="c y" style="left:930px;width:48px">566,926</span><span class="c y" style="left:978px;width:48px">536,028</span><span class="c y" style="left:1026px;width:48px">548,850</span><span class="c y e" style="left:1074px;width:4.7px"></span></div>
</div>
</div>
</body></html>
